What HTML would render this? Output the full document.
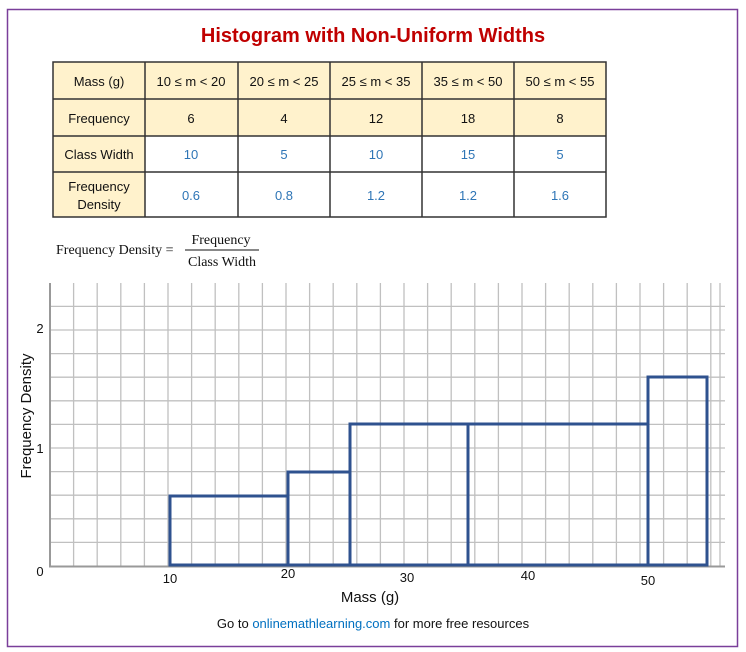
<!DOCTYPE html>
<html><head><style>
html,body{margin:0;padding:0;background:#fff}
svg{display:block}
</style></head><body>
<svg width="746" height="652" xmlns="http://www.w3.org/2000/svg" font-family="'Liberation Sans', sans-serif">
<rect x="7.5" y="9.5" width="730" height="637" fill="#fff" stroke="#7a3f9a" stroke-width="1.5"/>
<text x="373" y="42" text-anchor="middle" font-size="20" font-weight="bold" fill="#c00000">Histogram with Non-Uniform Widths</text>
<!-- table -->
<rect x="53" y="62" width="553" height="74" fill="#fff2cc"/>
<rect x="53" y="136" width="92" height="81" fill="#fff2cc"/>
<g stroke="#333" stroke-width="1.5" fill="none">
<rect x="53" y="62" width="553" height="155"/>
<line x1="53" y1="99" x2="606" y2="99"/><line x1="53" y1="136" x2="606" y2="136"/><line x1="53" y1="172" x2="606" y2="172"/>
<line x1="145" y1="62" x2="145" y2="217"/><line x1="238" y1="62" x2="238" y2="217"/><line x1="330" y1="62" x2="330" y2="217"/><line x1="422" y1="62" x2="422" y2="217"/><line x1="514" y1="62" x2="514" y2="217"/>
</g>
<g font-size="13" text-anchor="middle" fill="#111">
<text x="99" y="86">Mass (g)</text><text x="191" y="86">10 ≤ m &lt; 20</text><text x="284" y="86">20 ≤ m &lt; 25</text><text x="376" y="86">25 ≤ m &lt; 35</text><text x="468" y="86">35 ≤ m &lt; 50</text><text x="560" y="86">50 ≤ m &lt; 55</text>
<text x="99" y="123">Frequency</text><text x="191" y="123">6</text><text x="284" y="123">4</text><text x="376" y="123">12</text><text x="468" y="123">18</text><text x="560" y="123">8</text>
<text x="99" y="159">Class Width</text>
<text x="99" y="191">Frequency</text><text x="99" y="209">Density</text>
</g>
<g font-size="13" text-anchor="middle" fill="#2e75b6">
<text x="191" y="159">10</text><text x="284" y="159">5</text><text x="376" y="159">10</text><text x="468" y="159">15</text><text x="560" y="159">5</text>
<text x="191" y="200">0.6</text><text x="284" y="200">0.8</text><text x="376" y="200">1.2</text><text x="468" y="200">1.2</text><text x="560" y="200">1.6</text>
</g>
<g font-family="'Liberation Serif', serif" font-size="14" fill="#111">
<text x="56" y="254">Frequency Density =</text>
<text x="221" y="244" text-anchor="middle">Frequency</text>
<line x1="185" y1="250" x2="259" y2="250" stroke="#111" stroke-width="1"/>
<text x="222" y="266" text-anchor="middle">Class Width</text>
</g>
<!-- grid -->
<g stroke="#c0c0c0" stroke-width="1.3" id="grid"></g>
<g stroke="#c0c0c0" stroke-width="1.3">
<line x1="73.6" y1="283" x2="73.6" y2="566"/><line x1="97.2" y1="283" x2="97.2" y2="566"/><line x1="120.8" y1="283" x2="120.8" y2="566"/><line x1="144.4" y1="283" x2="144.4" y2="566"/><line x1="168" y1="283" x2="168" y2="566"/><line x1="191.6" y1="283" x2="191.6" y2="566"/><line x1="215.2" y1="283" x2="215.2" y2="566"/><line x1="238.8" y1="283" x2="238.8" y2="566"/><line x1="262.4" y1="283" x2="262.4" y2="566"/><line x1="286" y1="283" x2="286" y2="566"/><line x1="309.6" y1="283" x2="309.6" y2="566"/><line x1="333.2" y1="283" x2="333.2" y2="566"/><line x1="356.8" y1="283" x2="356.8" y2="566"/><line x1="380.4" y1="283" x2="380.4" y2="566"/><line x1="404" y1="283" x2="404" y2="566"/><line x1="427.6" y1="283" x2="427.6" y2="566"/><line x1="451.2" y1="283" x2="451.2" y2="566"/><line x1="474.8" y1="283" x2="474.8" y2="566"/><line x1="498.4" y1="283" x2="498.4" y2="566"/><line x1="522" y1="283" x2="522" y2="566"/><line x1="545.6" y1="283" x2="545.6" y2="566"/><line x1="569.2" y1="283" x2="569.2" y2="566"/><line x1="592.8" y1="283" x2="592.8" y2="566"/><line x1="616.4" y1="283" x2="616.4" y2="566"/><line x1="640" y1="283" x2="640" y2="566"/><line x1="663.6" y1="283" x2="663.6" y2="566"/><line x1="687.2" y1="283" x2="687.2" y2="566"/><line x1="710.8" y1="283" x2="710.8" y2="566"/><line x1="720" y1="283" x2="720" y2="566"/>
<line x1="50" y1="542.4" x2="725" y2="542.4"/><line x1="50" y1="518.8" x2="725" y2="518.8"/><line x1="50" y1="495.2" x2="725" y2="495.2"/><line x1="50" y1="471.6" x2="725" y2="471.6"/><line x1="50" y1="448" x2="725" y2="448"/><line x1="50" y1="424.4" x2="725" y2="424.4"/><line x1="50" y1="400.8" x2="725" y2="400.8"/><line x1="50" y1="377.2" x2="725" y2="377.2"/><line x1="50" y1="353.6" x2="725" y2="353.6"/><line x1="50" y1="330" x2="725" y2="330"/><line x1="50" y1="306.4" x2="725" y2="306.4"/>
</g>
<line x1="50" y1="283" x2="50" y2="567" stroke="#999" stroke-width="2"/>
<line x1="49" y1="566.5" x2="725" y2="566.5" stroke="#999" stroke-width="2"/>
<!-- bars -->
<g stroke="#2f528f" stroke-width="3" fill="none">
<rect x="170" y="496" width="118" height="69"/>
<rect x="288" y="472" width="62" height="93"/>
<rect x="350" y="424" width="118" height="141"/>
<rect x="468" y="424" width="180" height="141"/>
<rect x="648" y="377" width="59" height="188"/>
</g>
<g font-size="13" fill="#111" text-anchor="middle">
<text x="40" y="333">2</text><text x="40" y="453">1</text><text x="40" y="576">0</text>
<text x="170" y="583">10</text><text x="288" y="578">20</text><text x="407" y="582">30</text><text x="528" y="580">40</text><text x="648" y="585">50</text>
<text x="370" y="602" font-size="15">Mass (g)</text>
<text x="26" y="416" font-size="15" transform="rotate(-90 26 416)" dy="5">Frequency Density</text>
<text x="373" y="628">Go to <tspan fill="#0070c0">onlinemathlearning.com</tspan> for more free resources</text>
</g>
</svg>
</body></html>
